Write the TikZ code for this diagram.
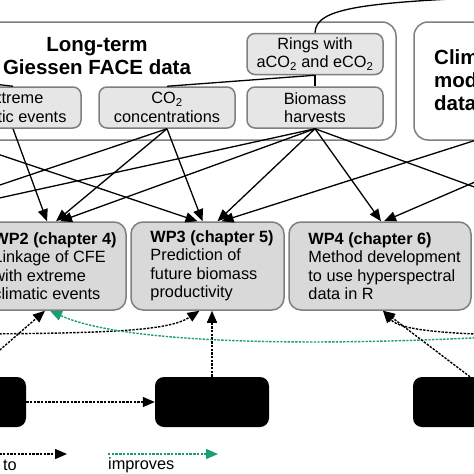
\documentclass[tikz,border=0pt]{standalone}
\usepackage{fontspec}
\setmainfont{Liberation Sans}
\usetikzlibrary{arrows.meta}
\definecolor{boxgray}{HTML}{7F7F7F}
\definecolor{wpfill}{HTML}{D9D9D9}
\definecolor{datafill}{HTML}{E6E6E6}
\definecolor{improvegreen}{HTML}{1A9E73}
\newcommand{\boxfont}{\fontsize{16.3}{18.5}\selectfont}
\newcommand{\headfont}{\fontsize{20.5}{23}\selectfont\bfseries}
\tikzset{
    >={Triangle[length=12pt,width=10pt]},
    bigbox/.style={draw=boxgray, line width=1.5pt, rounded corners=14pt, fill=white, minimum height=118pt},
    databox/.style={draw=boxgray, line width=1.5pt, rounded corners=8pt, fill=datafill, minimum width=136pt, minimum height=41pt, align=center, font=\boxfont, inner sep=0pt},
    wpbox/.style={draw=boxgray, line width=1.5pt, rounded corners=12pt, fill=wpfill, minimum height=88pt},
    wptext/.style={anchor=west, align=left, inner sep=0pt, font=\boxfont},
    outbox/.style={fill=black, rounded corners=9pt, minimum width=114pt, minimum height=50pt},
    feed/.style={->, line width=1.3pt},
    link/.style={line width=1.3pt},
    dashlink/.style={->, line width=1.4pt, dash pattern=on 2.4pt off 1.3pt},
    improves/.style={dashlink, draw=improvegreen}
}

\begin{document}
\begin{tikzpicture}[x=1pt,y=-1pt]
      \useasboundingbox (0,0) rectangle (474,474);
      \clip (0,0) rectangle (474,474);
      % data sources
      \node[bigbox, minimum width=476pt] (face) at (158,81) {};
      \node[font=\headfont, align=center, inner sep=0pt] (facetitle) at (97,56.5) {Long-term\\Giessen FACE data};
      \node[databox] (rings) at (315,54) {Rings with\\aCO\textsubscript{2} and eCO\textsubscript{2}};
      \node[databox] (extreme) at (13,107.5) {Extreme\\climatic events};
      \node[databox] (co2) at (167,107.5) {CO\textsubscript{2}\\concentrations};
      \node[databox] (biomass) at (315,107.5) {Biomass\\harvests};
      \node[bigbox, minimum width=120pt] (climate) at (474,81) {};
      \node[font=\headfont, align=left, anchor=west, inner sep=0pt] (climatetext) at (434,80.5) {Climate\\model\\data};
      % work packages
      \node[wpbox, minimum width=152pt] (wp2) at (50,266) {};
      \node[wptext] (wp2text) at ([xshift=20pt]wp2.west) {\textbf{WP2 (chapter 4)}\\Linkage of CFE\\with extreme\\climatic events};
      \node[wpbox, minimum width=153pt] (wp3) at (207.5,266) {};
      \node[wptext] (wp3text) at ([xshift=20pt]wp3.west) {\textbf{WP3 (chapter 5)}\\Prediction of\\future biomass\\productivity};
      \node[wpbox, minimum width=182pt] (wp4) at (380,266) {};
      \node[wptext] (wp4text) at ([xshift=20pt]wp4.west) {\textbf{WP4 (chapter 6)}\\Method development\\to use hyperspectral\\data in R};
      \node[outbox] (out1) at (-31,402) {};
      \node[outbox] (out2) at (212,402) {};
      \node[outbox] (out3) at (470,402) {};
      % ends outside the frame
      \coordinate (wp1top) at (-110,222);
      \coordinate (wp5top) at (570,222);
      \coordinate (leftsrc) at (-80,128);
      \coordinate (rightsrc) at (600,128);
      \coordinate (extsrc) at (-60,78);
      \coordinate (topend) at (520,-4);
      \coordinate (dashsrcL) at (-60,334);
      \coordinate (dashsrcR) at (540,336);
      \coordinate (greensrc) at (560,333);
      % links inside the FACE box
      \draw[link] (co2.north) -- (rings.south);
      \draw[link] (rings.south) -- (biomass.north);
      \draw[link] (extsrc) -- (extreme.north);
      \draw[link] (rings.north) .. controls (316,8) and (360,2) .. (topend);
      % data into work packages
      \draw[feed] (extreme.south) -- ([xshift=-3pt]wp2.north);
      \draw[feed] (co2.south) -- ([xshift=6pt]wp2.north);
      \draw[feed] (biomass.south) -- ([xshift=10pt]wp2.north);
      \draw[feed] (co2.south) -- (wp1top);
      \draw[feed] (biomass.south) -- (wp1top);
      \draw[feed] (leftsrc) -- ([xshift=-10pt]wp3.north);
      \draw[feed] (co2.south) -- ([xshift=-5pt]wp3.north);
      \draw[feed] (biomass.south) -- ([xshift=10pt]wp3.north);
      \draw[feed] (climate.south) -- ([xshift=14pt]wp3.north);
      \draw[feed] (biomass.south) -- ([xshift=1pt]wp4.north);
      \draw[feed] (rightsrc) -- ([xshift=4pt]wp4.north);
      \draw[feed] (biomass.south) -- (wp5top);
      % dashed links below
      \draw[dashlink] (out1.east) -- (out2.west);
      \draw[dashlink] (out2.north) -- (out2.north |- wp3.south);
      \draw[dashlink] (out1.north) -- ([xshift=-5pt]wp2.south);
      \draw[dashlink] (dashsrcL) .. controls (120,334) and (170,330) .. ([xshift=-8pt]wp3.south);
      \draw[improves] (greensrc) .. controls (350,347) and (130,347) .. (wp2.south);
      \draw[dashlink] (out3.north) -- ([xshift=3pt]wp4.south);
      \draw[dashlink] (dashsrcR) .. controls (440,334) and (400,330) .. ([xshift=3pt]wp4.south);
      % legend
      \coordinate (legA) at (-60,454);
      \coordinate (legB) at (67,454);
      \coordinate (legC) at (108,454);
      \coordinate (legD) at (218,454);
      \draw[dashlink] (legA) -- (legB);
      \draw[improves] (legC) -- (legD);
      \node[font=\boxfont, anchor=west, inner sep=0pt] (legto) at (3,465) {to};
      \node[font=\boxfont, anchor=west, inner sep=0pt] (legimp) at (108,465) {improves};
\end{tikzpicture}
\end{document}
